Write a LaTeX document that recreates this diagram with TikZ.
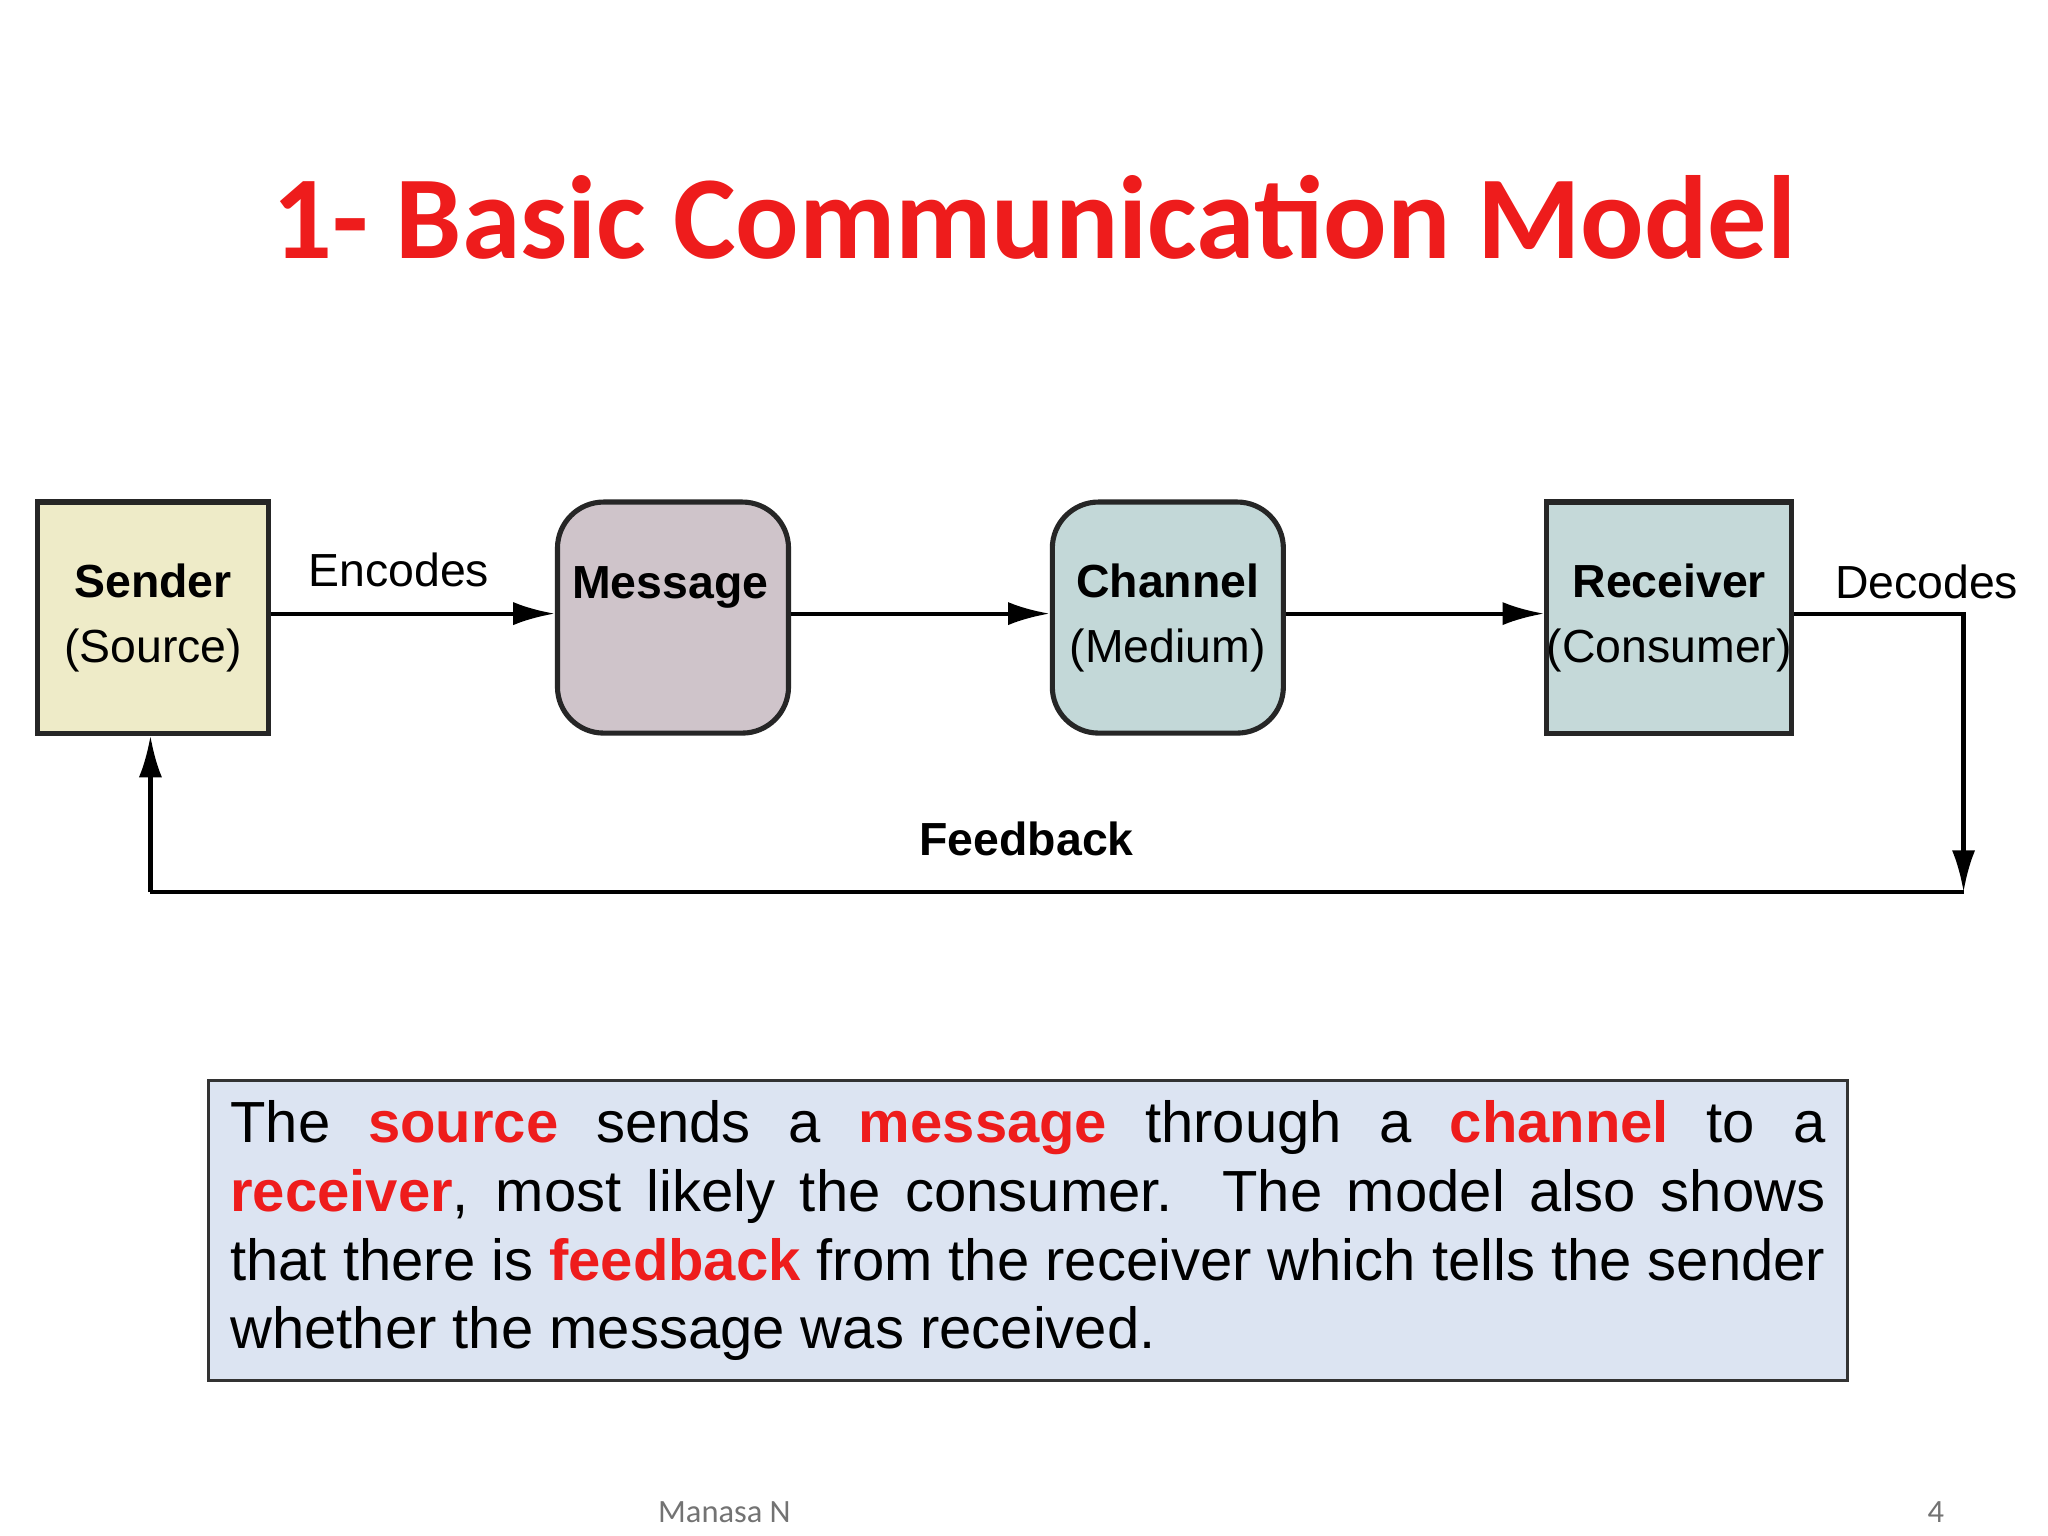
\documentclass[tikz,border=0pt]{standalone}
\usepackage{fontspec}
\setmainfont{Liberation Sans}
\newfontfamily\calfont{Carlito}
\usetikzlibrary{arrows.meta}
\definecolor{tred}{HTML}{EE1C1C}
\begin{document}
\begin{tikzpicture}[x=0.01cm,y=-0.01cm,
 blk/.style={draw=black!85,line width=1.1pt,minimum width=1.75cm,minimum height=1.75cm,align=center,font=\fontsize{10}{12}\selectfont,inner sep=0pt},
 rbox/.style={blk,rounded corners=0.35cm},
 arr/.style={line width=0.9pt,-{Latex[length=9pt,width=5pt]}},
 lab/.style={font=\fontsize{10}{12}\selectfont}]
\useasboundingbox (0,0) rectangle (1552,1164);
\fill[white] (0,0) rectangle (1552,1164);
\node[text=tred,font=\calfont\bfseries\fontsize{25.5}{30}\selectfont] (title) at (784,165) {1- Basic Communication Model};
\node[blk,fill={rgb,255:red,238;green,235;blue,200}] (s) at (116,468) {\textbf{Sender}\\[2pt](Source)};
\node[rbox,fill={rgb,255:red,207;green,196;blue,202},anchor=center] (m) at (510,468) {};
\node[font=\fontsize{10}{12}\selectfont\bfseries] (mt) at (508,445) {Message};
\node[rbox,fill={rgb,255:red,195;green,216;blue,216}] (c) at (885,468) {\textbf{Channel}\\[2pt](Medium)};
\node[blk,minimum width=1.85cm,fill={rgb,255:red,197;green,217;blue,217}] (r) at (1265,468) {\textbf{Receiver}\\[2pt](Consumer)};
\draw[arr] (s.east|-0,465) -- node[lab,above=2pt,pos=0.45]{Encodes} (m.west|-0,465);
\draw[arr] (m.east|-0,465) -- (c.west|-0,465);
\draw[arr] (c.east|-0,465) -- (r.west|-0,465);
\coordinate (d1) at (1488,465);
\coordinate (d2) at (1488,676);
\coordinate (f1) at (114,676);
\node[lab] (dec) at (1460,441) {Decodes};
\draw[arr] (r.east|-0,465) -- (d1) -- (d2);
\draw[line width=0.9pt] (d2) -- (f1);
\draw[arr] (f1) -- (s.south-|f1);
\node[lab,font=\fontsize{10}{12}\selectfont\bfseries] (fb) at (778,636) {Feedback};
\node[draw=black!80,line width=0.6pt,fill={rgb,255:red,220;green,228;blue,242},anchor=north west,minimum width=12.41cm,minimum height=2.27cm,text width=12.08cm,align=justify,inner sep=0pt,font=\fontsize{12.5}{14.8}\selectfont] (tb) at (157,818) {The \textcolor{tred}{\textbf{source}} sends a \textcolor{tred}{\textbf{message}} through a \textcolor{tred}{\textbf{channel}} to a\linebreak \textcolor{tred}{\textbf{receiver}}, most likely the consumer.\ \ The model also shows\linebreak that there is \textcolor{tred}{\textbf{feedback}} from the receiver which tells the sender\linebreak whether the message was received.};
\node[text=black!55,font=\calfont\fontsize{7}{8}\selectfont] (ft) at (549,1146) {Manasa N};
\node[text=black!55,font=\calfont\fontsize{7}{8}\selectfont] (pg) at (1467,1146) {4};
\end{tikzpicture}
\end{document}
